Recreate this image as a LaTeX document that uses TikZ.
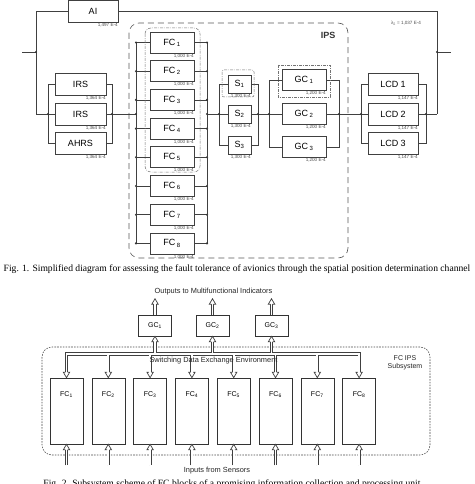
\documentclass[tikz,border=0pt]{standalone}
\usepackage{fontspec}
\setmainfont{Liberation Serif}
\setsansfont{Liberation Sans}
\usetikzlibrary{calc}
\newcommand\headup[1]{\filldraw[hd] ($(#1)+(-1.2,5.5)$) -- ($(#1)+(-3.2,5.5)$) -- (#1) -- ($(#1)+(3.2,5.5)$) -- ($(#1)+(1.2,5.5)$);}
\newcommand\headdown[1]{\filldraw[hd] ($(#1)+(-1.2,-5.5)$) -- ($(#1)+(-3.2,-5.5)$) -- (#1) -- ($(#1)+(3.2,-5.5)$) -- ($(#1)+(1.2,-5.5)$);}
\tikzset{
  blk/.style={draw=black!75, line width=0.65pt, fill=white, inner sep=0pt, font=\sffamily\fontsize{9}{10}\selectfont},
  irsb/.style={blk, minimum width=51pt, minimum height=22pt},
  fcb/.style={blk, minimum width=44pt, minimum height=21pt},
  sb/.style={blk, minimum width=23pt, minimum height=18pt},
  gcb/.style={blk, minimum width=44pt, minimum height=21pt},
  lcdb/.style={blk, minimum width=50pt, minimum height=22pt},
  lbl/.style={inner sep=0.4pt, text=black!70, font=\sffamily\fontsize{4.6}{5}\selectfont},
  wire/.style={draw=black!75, line width=0.65pt},
  jdot/.style={fill=black!80},
  dd/.style={draw=black!55, line width=0.5pt, dash pattern=on 3pt off 1.2pt on 0.6pt off 1.2pt},
  bx/.style={draw=black!80, line width=0.6pt, fill=white, inner sep=0pt, font=\sffamily\fontsize{7}{8}\selectfont},
  dbl/.style={draw=black!75, line width=0.7pt, double=white, double distance=1.7pt},
  hd/.style={draw=black!75, fill=white, line width=0.7pt, line join=miter},
  t2/.style={inner sep=0.5pt, font=\sffamily\fontsize{7.4}{8}\selectfont, text=black!85},
  figcap/.style={inner sep=0pt, font=\fontsize{9.6}{11}\selectfont}
}
\begin{document}
\begin{tikzpicture}[x=1pt,y=-1pt]
\path[use as bounding box] (0,0) rectangle (474,484);
\clip (0,0) rectangle (474,484);
\fill[white] (0,0) rectangle (474,484);

% ---------------- Fig. 1 ----------------
\draw[black!65, line width=0.6pt, dash pattern=on 6pt off 4pt, rounded corners=10pt] (129,23) rectangle (348,258);
\node[font=\sffamily\fontsize{9}{10}\selectfont\bfseries, text=black!80] (ips) at (328,35) {IPS};

\node[blk, minimum width=50pt, minimum height=22pt] (ai) at (93,11) {AI};
\node[lbl, anchor=north east] (lai) at (ai.south east) {1,497 E-4};
\node[lbl] (lsum) at (406,23) {λ\textsubscript{Σ} = 1,037 E-4};

\coordinate (jl) at (36,114);
\coordinate (jr) at (437,114);
\coordinate (tapL) at (36,52);
\coordinate (inL) at (22,52);
\coordinate (tapR) at (437,52);
\coordinate (outR) at (451,52);
\draw[wire] (ai.west) -| (jl);
\draw[wire] (ai.east) -| (jr);
\draw[wire] (inL) -- (tapL);
\draw[wire] (tapR) -- (outR);
\fill[jdot] (tapL) circle (1.2);
\fill[jdot] (tapR) circle (1.2);

% IRS group
\node[irsb] (irs1) at (80.5,84) {IRS};
\node[irsb] (irs2) at (80.5,114) {IRS};
\node[irsb] (ahrs) at (80.5,143) {AHRS};
\node[lbl, anchor=north east] (lirs1) at (irs1.south east) {1,364 E-4};
\node[lbl, anchor=north east] (lirs2) at (irs2.south east) {1,364 E-4};
\node[lbl, anchor=north east] (lahrs) at (ahrs.south east) {1,364 E-4};
\coordinate (irsL) at (48,114);
\coordinate (irsR) at (112,114);
\foreach \n in {irs1,irs2,ahrs}{
  \draw[wire] (\n.west) -| (irsL);
  \draw[wire] (\n.east) -| (irsR);
}

% FC group
\coordinate (fcL) at (136,114);
\coordinate (fcR) at (207,114);
\foreach \i in {1,...,8}{
  \node[fcb] (fc\i) at (172,{42.5+28.7*(\i-1)}) {FC\,\textsubscript{\i}};
  \node[lbl, anchor=north east] (lfc\i) at (fc\i.south east) {1,000 E-4};
  \draw[wire] (fc\i.west) -| (fcL);
  \draw[wire] (fc\i.east) -| (fcR);
  \fill[jdot] (fc\i.west -| fcL) circle (1.2);
  \fill[jdot] (fc\i.east -| fcR) circle (1.2);
}
\draw[dd, rounded corners=6pt] (145,28) rectangle (200,172);

% S group
\coordinate (sL) at (219,114);
\coordinate (sR) at (258,114);
\foreach \i/\y in {1/84,2/114,3/145}{
  \node[sb] (s\i) at (239.5,\y) {S\textsubscript{\i}};
  \node[lbl, anchor=north east] (ls\i) at (s\i.south east) {1,300 E-4};
  \draw[wire] (s\i.west) -| (sL);
  \draw[wire] (s\i.east) -| (sR);
}
\draw[dd, rounded corners=2pt] (222,70) rectangle (254,97);

% GC group
\coordinate (gcL) at (269,114);
\coordinate (gcR) at (339,114);
\foreach \i/\y in {1/80,2/114,3/147}{
  \node[gcb] (gc\i) at (304,\y) {GC\,\textsubscript{\i}};
  \node[lbl, anchor=north east] (lgc\i) at (gc\i.south east) {1,200 E-4};
  \draw[wire] (gc\i.west) -| (gcL);
  \draw[wire] (gc\i.east) -| (gcR);
}
\draw[dd] (278,65) rectangle (330,97);

% LCD group
\coordinate (lcdL) at (361,114);
\coordinate (lcdR) at (426,114);
\foreach \i/\y in {1/84,2/114,3/143}{
  \node[lcdb] (lcd\i) at (393,\y) {LCD \i};
  \node[lbl, anchor=north east] (llcd\i) at (lcd\i.south east) {1,147 E-4};
  \draw[wire] (lcd\i.west) -| (lcdL);
  \draw[wire] (lcd\i.east) -| (lcdR);
}

% main chain
\draw[wire] (jl) -- (irsL);
\draw[wire] (irsR) -- (fcL);
\draw[wire] (fcR) -- (sL);
\draw[wire] (sR) -- (gcL);
\draw[wire] (gcR) -- (lcdL);
\draw[wire] (lcdR) -- (jr);
\foreach \c in {irsL,irsR,fcL,fcR,sL,sR,gcL,gcR,lcdL,lcdR}{
  \fill[jdot] (\c) circle (1.2);
}

\node[figcap, anchor=base] (cap1) at (237,271) {Fig. 1. Simplified diagram for assessing the fault tolerance of avionics through the spatial position determination channel};

% ---------------- Fig. 2 ----------------
\draw[black!70, line width=0.55pt, dash pattern=on 1.6pt off 1.2pt, rounded corners=10pt] (42,347) rectangle (430,455);
\node[t2] (outs) at (213.5,292) {Outputs to Multifunctional Indicators};

\node[bx, minimum width=33pt, minimum height=21pt] (g1) at (155,325.5) {GC\textsubscript{1}};
\node[bx, minimum width=33pt, minimum height=21pt] (g2) at (212.5,325.5) {GC\textsubscript{2}};
\node[bx, minimum width=33pt, minimum height=21pt] (g3) at (271.5,325.5) {GC\textsubscript{3}};

\foreach \i in {1,...,8}{
  \node[bx, minimum width=33pt, minimum height=66pt] (f\i) at ({66.5+41.8*(\i-1)},411) {};
  \node[inner sep=0pt, font=\sffamily\fontsize{7}{8}\selectfont] (ft\i) at ($(f\i.north)+(0,17)$) {FC\textsubscript{\i}};
}

\coordinate (busy) at (0,354);
\draw[dbl] ($(f1.north)+(0,-4)$) -- (f1.north |- busy) -- (f8.north |- busy) -- ($(f8.north)+(0,-4)$)
  \foreach \i in {2,...,7}{ (f\i.north |- busy) -- ($(f\i.north)+(0,-4)$) }
  \foreach \i in {1,2,3}{ (g\i.south |- busy) -- ($(g\i.south)+(0,4)$) };
\foreach \i in {1,...,8}{ \headdown{f\i.north} }
\foreach \i in {1,2,3}{ \headup{g\i.south} }

\foreach \i in {1,2,3}{
  \coordinate (go\i) at ($(g\i.north)+(0,-16)$);
  \draw[dbl] (g\i.north) -- ($(go\i)+(0,4)$);
  \headup{go\i}
}
\foreach \i in {1,...,8}{
  \coordinate (fin\i) at ($(f\i.south)+(0,21)$);
  \draw[dbl] (fin\i) -- ($(f\i.south)+(0,4)$);
  \headup{f\i.south}
}

\node[t2, anchor=north] (sdee) at (213.5,356.5) {Switching Data Exchange Environment};
\node[inner sep=0pt, font=\sffamily\fontsize{7}{8}\selectfont, align=center, text=black!85] (fcips) at (405,363) {FC IPS\\Subsystem};
\node[t2] (ins) at (217,471) {Inputs from Sensors};

\node[figcap, anchor=base] (cap2) at (232,486.5) {Fig. 2. Subsystem scheme of FC blocks of a promising information collection and processing unit};
\end{tikzpicture}
\end{document}
